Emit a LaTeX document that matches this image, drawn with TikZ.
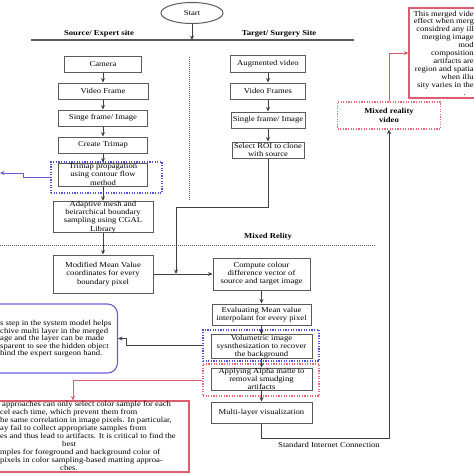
\documentclass[tikz,border=0pt]{standalone}
\usepackage{fontspec}
\setmainfont[FakeStretch=1.15]{Liberation Serif}
\usepackage{xcolor}
\usepackage{tikz}
\usetikzlibrary{arrows.meta}
\usetikzlibrary{shapes.geometric}

\definecolor{boxgray}{RGB}{90,90,90}
\definecolor{notered}{RGB}{222,92,108}
\definecolor{noteblue}{RGB}{104,92,214}
\definecolor{zoneblue}{RGB}{80,80,215}
\definecolor{zonered}{RGB}{232,100,120}

\begin{document}
\begin{tikzpicture}[x=1pt,y=-1pt,
		every node/.style={font=\fontsize{7.5}{8.2}\selectfont,inner sep=0pt,align=center}]
		\useasboundingbox (0,0) rectangle (474,474);
		\clip (0,0) rectangle (474,474);

		% site rules
		\coordinate (srcL) at (31,40);
		\coordinate (srcR) at (354,40);
		\coordinate (sepT) at (189,57);
		\coordinate (sepB) at (189,200);
		\coordinate (mixL) at (0,245);
		\coordinate (mixR) at (375,245);
		\draw[boxgray,line width=1.2pt] (srcL) -- (srcR);
		\draw[boxgray,line width=1pt,densely dotted] (sepT) -- (sepB);
		\draw[boxgray,line width=1pt,densely dotted] (mixL) -- (mixR);
		\node[font=\fontsize{7.5}{8.2}\selectfont\bfseries] (srclab) at (99,34) {Source/ Expert site};
		\node[font=\fontsize{7.5}{8.2}\selectfont\bfseries] (tgtlab) at (279,34) {Target/ Surgery Site};
		\node[font=\fontsize{7.5}{8.2}\selectfont\bfseries] (mixlab) at (268,237) {Mixed Relity};
		\node (netlab) at (329,445) {Standard Internet Connection};

		% dotted zones
		\begin{scope}[every node/.append style={line width=1.2pt,dash pattern=on 1.2pt off 1.4pt}]
		\node[draw=zoneblue,minimum width=111,minimum height=31] (tpropzone) at (106.5,177.5) {};
		\node[draw=zoneblue,minimum width=116,minimum height=31] (volzone) at (261,345.5) {};
		\node[draw=zonered,minimum width=116,minimum height=32] (alphazone) at (261,380) {};
		\node[draw=zonered,minimum width=103,minimum height=27,font=\fontsize{7.5}{8.2}\selectfont\bfseries] (mrv) at (389,115.5) {Mixed reality\\video};
		\end{scope}

		% process boxes
		\begin{scope}[every node/.append style={draw=boxgray,line width=1pt,fill=white}]
		\node[shape=ellipse,fill=none,minimum width=62,minimum height=21] (start) at (192,13) {Start};
		\node[minimum width=77,minimum height=16] (cam) at (103,64) {Camera};
		\node[minimum width=90,minimum height=16] (vframe) at (103,91) {Video Frame};
		\node[minimum width=89,minimum height=16] (single) at (103,118) {Singe frame/ Image};
		\node[minimum width=89,minimum height=16] (trimap) at (103,145) {Create Trimap};
		\node[minimum width=89,minimum height=23] (tprop) at (103,174.5) {Trimap propagation\\using contour flow\\method};
		\node[minimum width=100,minimum height=30] (adapt) at (103,217) {Adaptive mesh and\\beirarchical boundary\\sampling using CGAL\\Library};
		\node[minimum width=100,minimum height=38] (modmv) at (103,274) {Modified Mean Value\\coordinates for every\\boundary pixel};

		\node[minimum width=75,minimum height=17] (aug) at (268,63.5) {Augmented video};
		\node[minimum width=75,minimum height=16] (vframes) at (268,91) {Video Frames};
		\node[minimum width=74,minimum height=16] (tsingle) at (268,120) {Single frame/ Image};
		\node[minimum width=72,minimum height=16] (roi) at (268,150) {Select ROI to clone\\with source};

		\node[minimum width=97,minimum height=32] (comp) at (261.5,274) {Compute colour\\difference vector of\\source and target image};
		\node[minimum width=99,minimum height=21] (evalm) at (261.5,314.5) {Evaluating Mean value\\interpolant for every pixel};
		\node[minimum width=101,minimum height=21] (volim) at (261.5,346.5) {Volumetric image\\sysnthesization to recover\\the background};
		\node[minimum width=101,minimum height=22] (alpha) at (261.5,379) {Applying Alpha matte to\\removal smudging\\artifacts};
		\node[minimum width=101,minimum height=21] (mlayer) at (261.5,412.5) {Multi-layer visualization};
		\end{scope}

		% side notes
		\node[draw=notered,line width=1.1pt,minimum width=131,minimum height=90] (mergenote) at (474.5,53) {};
		\node[anchor=east,align=right,font=\fontsize{7.5}{7.9}\selectfont] (mergetxt) at (474,53) {This merged vide\\effect when merg\\considred any ill\\merging image\\mod\hspace*{4pt}\\composition\\artifacts are\\region and spatia\\when illu\\sity varies in the\\.\hspace*{8pt}};
		\node[draw=noteblue,line width=1.1pt,rounded corners=10pt,minimum width=150,minimum height=69] (layernote) at (42.5,338.5) {};
		\node[anchor=west,align=left,font=\fontsize{7.5}{7.6}\selectfont] (layertxt) at (0,339) {s step in the system model helps\\chive multi layer in the merged\\age and the layer can be made\\sparent to see the hidden object\\hind the expert surgeon hand.};
		\node[draw=notered,line width=1.1pt,minimum width=240,minimum height=71] (colnote) at (69,436.5) {};
		\node[anchor=west,align=left,font=\fontsize{7.5}{8}\selectfont] (colnotetxt) at (0,436) {\hspace*{2pt}approaches can only select color sample for each\\cel each time, which prevent them from\\he same correlation in image pixels. In particular,\\ay fail to collect appropriate samples from\\es and thus lead to artifacts. It is critical to find the\\\hspace*{62pt}best\\mples for foreground and background color of\\pixels in color sampling-based matting approa-\\\hspace*{60pt}ches.};

		% connectors
		\begin{scope}[>={Stealth[length=4.5pt,width=4pt]},
		every edge/.style={draw=black!75,line width=0.9pt}]
		\coordinate (roijoin) at (176,207);
		\coordinate (netcorner) at (389,438);
		\coordinate (bluejog) at (23,173);
		\coordinate (offleft) at (0,173);

		\path [->] (start) edge (start |- srcL);
		\path [->] (cam) edge (vframe);
		\path [->] (vframe) edge (single);
		\path [->] (single) edge (trimap);
		\path [->] (trimap) edge (tprop);
		\path [->] (tprop) edge (adapt);
		\path [->] (adapt) edge (modmv);
		\path [->] (aug) edge (vframes);
		\path [->] (vframes) edge (tsingle);
		\path [->] (tsingle) edge (roi);
		\path [->] (modmv) edge (comp);
		\path [->] (comp) edge (evalm);
		\path [->] (evalm) edge (volim);
		\path [->] (volim) edge (alpha);
		\path [->] (alpha) edge (mlayer);
		\draw[->,black!75,line width=0.9pt] (roi.south) |- (roijoin) -- (roijoin |- modmv.east);
		\draw[->,black!75,line width=0.9pt] (mlayer.south) |- (netcorner) -- (mrv.south);
		\draw[->,black!75,line width=0.9pt] (volzone.west) -- ++(-76,0) |- (layernote.east);
		\draw[->,notered,line width=0.9pt] (mrv.north) |- (mergenote.west);
		\draw[->,notered,line width=0.9pt] (alphazone.west) -| ([xshift=4pt]colnote.north);
		\draw[->,noteblue,line width=0.9pt] (tpropzone.west) -- (bluejog |- tpropzone.west) -- (bluejog) -- (offleft);
		\end{scope}
		\end{tikzpicture}
\end{document}
